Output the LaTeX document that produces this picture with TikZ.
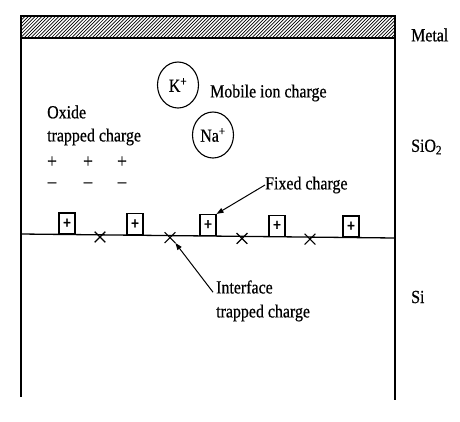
\documentclass[tikz,border=0pt]{standalone}
\usepackage{fontspec}
\setmainfont[FakeStretch=0.86, FakeBold=0.6]{Liberation Serif}
\usetikzlibrary{shapes.geometric, shapes.misc, arrows.meta, positioning}

\begin{document}
\begin{tikzpicture}[
  x=1pt, y=-1pt,
  lbl/.style={font=\fontsize{18.5}{20}\selectfont, inner sep=0pt},
  sgn/.style={font=\fontsize{20}{20}\selectfont, inner sep=0pt},
  ion/.style={ellipse, draw, line width=1.1pt, minimum width=41pt,
              minimum height=46pt, inner sep=0pt, lbl},
  fixbox/.style={rectangle, draw, line width=1.1pt, minimum width=16pt,
                 minimum height=21pt, inner sep=0pt, anchor=south,
                 font=\fontsize{17}{17}\selectfont\bfseries},
  trap/.style={cross out, draw, line width=1.2pt, minimum size=9.5pt, inner sep=0pt},
  wall/.style={line width=1.5pt},
  ar/.style={-{Triangle[length=7pt,width=5pt]}, line width=1pt}
]
  \useasboundingbox (0,0) rectangle (460,421);

  % metal layer
  \begin{scope}
    \clip (21,16) rectangle (395,38);
    \foreach \k in {0,3.4,...,400}
      \draw[line width=0.7pt] (\k,38) -- (\k+22,16);
  \end{scope}
  \draw[wall] (21,16) rectangle (395,38);
  \draw[wall] (21,38) -- (21,397);
  \draw[wall] (395,38) -- (395,400);

  % interface
  \draw[line width=1.3pt] (21,234) -- (395,238);

  % layer labels
  \node[lbl, anchor=west] (metal) at (411,35)  {Metal};
  \node[lbl, anchor=west] (oxide) at (411,147) {SiO\textsubscript{2}};
  \node[lbl, anchor=west] (si)    at (411,297) {Si};

  % mobile ions
  \node[ion] (kion)  at (178,85)  {K\textsuperscript{+}};
  \node[ion] (naion) at (213,135) {Na\textsuperscript{+}};
  \node[lbl, anchor=west] (mobile) at (210,93) {Mobile ion charge};

  % oxide trapped charge
  \node[lbl, anchor=west] (otc1) at (47,112) {Oxide};
  \node[lbl, anchor=west] (otc2) at (47,137) {trapped charge};
  \foreach \px [count=\i] in {52,88,122} {
    \node[sgn] (op\i) at (\px,162) {+};
    \node[sgn] (om\i) at (\px,185) {--};
  }

  % fixed charge
  \node[fixbox] (fix1) at (67,234.5)  {+};
  \node[fixbox] (fix2) at (135,235.2) {+};
  \node[fixbox] (fix3) at (208,236)   {+};
  \node[fixbox] (fix4) at (277,236.7) {+};
  \node[fixbox] (fix5) at (351,237.5) {+};
  \node[lbl, anchor=west] (fixed) at (265,185) {Fixed charge};

  % interface trapped charge
  \node[trap] (it1) at (100,237)   {};
  \node[trap] (it2) at (170,237.6) {};
  \node[trap] (it3) at (242,238.4) {};
  \node[trap] (it4) at (310,239.1) {};
  \node[lbl, anchor=west] (iface1) at (216,287) {Interface};
  \node[lbl, anchor=west] (iface2) at (216,313) {trapped charge};

  \draw[ar] (fixed.west) -- (fix3.north east);
  \draw[ar] (iface1.north west) ++(-3,12) coordinate (ifs) (ifs) -- (it2.south east);
\end{tikzpicture}
\end{document}
